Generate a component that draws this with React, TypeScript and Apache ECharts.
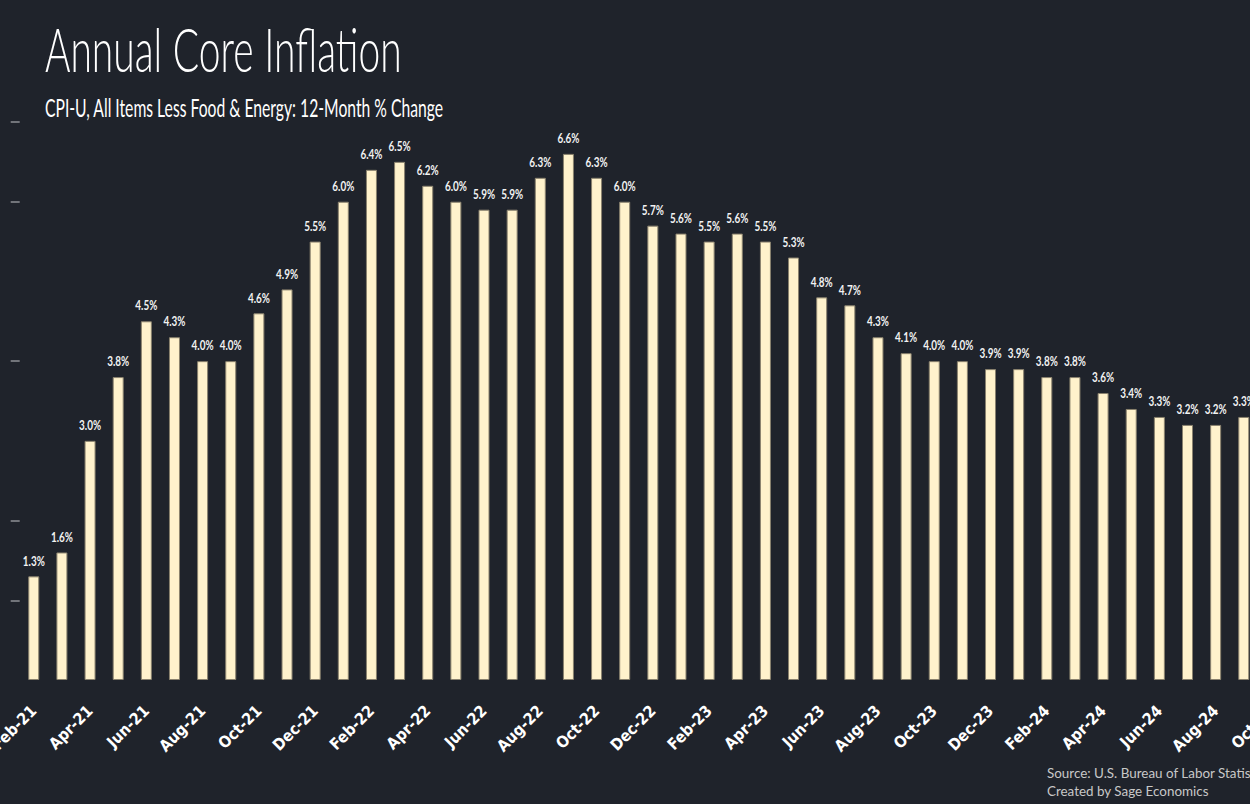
import React, { useEffect, useRef } from "react";
import * as echarts from "echarts";

const months = [
  "Feb-21", "Mar-21", "Apr-21", "May-21", "Jun-21", "Jul-21", "Aug-21", "Sep-21", "Oct-21", "Nov-21", "Dec-21",
  "Jan-22", "Feb-22", "Mar-22", "Apr-22", "May-22", "Jun-22", "Jul-22", "Aug-22", "Sep-22", "Oct-22", "Nov-22", "Dec-22",
  "Jan-23", "Feb-23", "Mar-23", "Apr-23", "May-23", "Jun-23", "Jul-23", "Aug-23", "Sep-23", "Oct-23", "Nov-23", "Dec-23",
  "Jan-24", "Feb-24", "Mar-24", "Apr-24", "May-24", "Jun-24", "Jul-24", "Aug-24", "Sep-24", "Oct-24",
];

const coreCpi = [
  1.3, 1.6, 3.0, 3.8, 4.5, 4.3, 4.0, 4.0, 4.6, 4.9, 5.5,
  6.0, 6.4, 6.5, 6.2, 6.0, 5.9, 5.9, 6.3, 6.6, 6.3, 6.0, 5.7,
  5.6, 5.5, 5.6, 5.5, 5.3, 4.8, 4.7, 4.3, 4.1, 4.0, 4.0, 3.9,
  3.9, 3.8, 3.8, 3.6, 3.4, 3.3, 3.2, 3.2, 3.3, 3.3,
];

const yTickValues = [1, 2, 4, 6, 7];

const titleText = "Annual Core Inflation";
const subtitleText = "CPI-U, All Items Less Food & Energy: 12-Month % Change";
const sourceLines = ["Source: U.S. Bureau of Labor Statistics", "Created by Sage Economics"];

const BG = "#1f232b";
const CONDENSED =
  "'Noto Sans ExtraCondensed', 'Noto Sans Condensed', 'Noto Sans SemiCondensed', 'DejaVu Sans Condensed', sans-serif";

function fitScale(text: string, font: string, target: number): number {
  const ctx = document.createElement("canvas").getContext("2d");
  if (!ctx) return 1;
  ctx.font = font;
  const w = ctx.measureText(text).width;
  return w > 0 ? target / w : 1;
}

export default function App() {
  const ref = useRef<HTMLDivElement>(null);

  useEffect(() => {
    if (!ref.current) return;
    const chart = echarts.init(ref.current, null, { renderer: "svg" });

    const titleScale = fitScale(titleText, "300 62px Lato", 357);
    const subScale = fitScale(subtitleText, "400 25px Lato", 399);
    const srcScale = fitScale(sourceLines[1], "400 14px Lato", 162);
    const valScale = fitScale("6.6%", "bold 14px Lato", 22);

    const catW = 28.14;
    const gridLeft = 19.7;

    chart.setOption({
      animation: false,
      backgroundColor: BG,
      grid: {
        left: gridLeft,
        top: 122,
        width: catW * months.length,
        height: 558,
        containLabel: false,
        outerBoundsMode: "none",
      },
      xAxis: {
        type: "category",
        data: months,
        axisLine: { show: false },
        axisTick: { show: false },
        axisLabel: {
          interval: 1,
          rotate: 45,
          margin: 28,
          color: "#ffffff",
          fontFamily: CONDENSED,
          fontWeight: "bold",
          fontSize: 16,
        },
      },
      yAxis: {
        type: "value",
        min: 0,
        max: 7,
        axisLine: { show: false },
        splitLine: { show: false },
        axisLabel: { show: false },
        axisTick: {
          show: true,
          customValues: yTickValues,
          length: 9,
          lineStyle: { color: "#8e9196", width: 1.5 },
        },
      },
      series: [
        {
          type: "bar",
          data: coreCpi,
          barWidth: 11,
          itemStyle: {
            color: "#fff2cc",
            borderColor: "#8a826e",
            borderWidth: 1,
          },
        },
        {
          type: "custom",
          data: coreCpi.map((v, i) => [i, v]),
          clip: false,
          silent: true,
          renderItem: (params: any, api: any) => {
            const pt = api.coord([api.value(0), api.value(1)]);
            return {
              type: "text",
              x: pt[0],
              y: pt[1] - 16,
              scaleX: valScale,
              style: {
                text: `${Number(api.value(1)).toFixed(1)}%`,
                fill: "#f2f2f2",
                fontFamily: "Lato",
                fontWeight: "bold",
                fontSize: 14,
                align: "center",
                verticalAlign: "middle",
              },
            };
          },
        },
      ],
      graphic: [
        {
          type: "text",
          x: 45,
          y: 48,
          scaleX: titleScale,
          style: {
            text: titleText,
            fill: "#ffffff",
            fontFamily: "Lato",
            fontWeight: 300,
            fontSize: 62,
            verticalAlign: "middle",
          },
        },
        {
          type: "text",
          x: 45,
          y: 106.5,
          scaleX: subScale,
          style: {
            text: subtitleText,
            fill: "#ffffff",
            fontFamily: "Lato",
            fontWeight: 400,
            fontSize: 25,
            verticalAlign: "middle",
          },
        },
        {
          type: "text",
          x: 1047,
          y: 772,
          scaleX: srcScale,
          style: {
            text: sourceLines[0],
            fill: "#c8c8c8",
            fontFamily: "Lato",
            fontSize: 14,
            verticalAlign: "middle",
          },
        },
        {
          type: "text",
          x: 1047,
          y: 790,
          scaleX: srcScale,
          style: {
            text: sourceLines[1],
            fill: "#c8c8c8",
            fontFamily: "Lato",
            fontSize: 14,
            verticalAlign: "middle",
          },
        },
      ],
    });

    return () => chart.dispose();
  }, []);

  return (
    <div
      style={{
        position: "absolute",
        left: 0,
        top: 0,
        width: 1250,
        height: 804,
        overflow: "hidden",
        background: BG,
      }}
    >
      <div ref={ref} style={{ width: 1320, height: 804 }} />
    </div>
  );
}
